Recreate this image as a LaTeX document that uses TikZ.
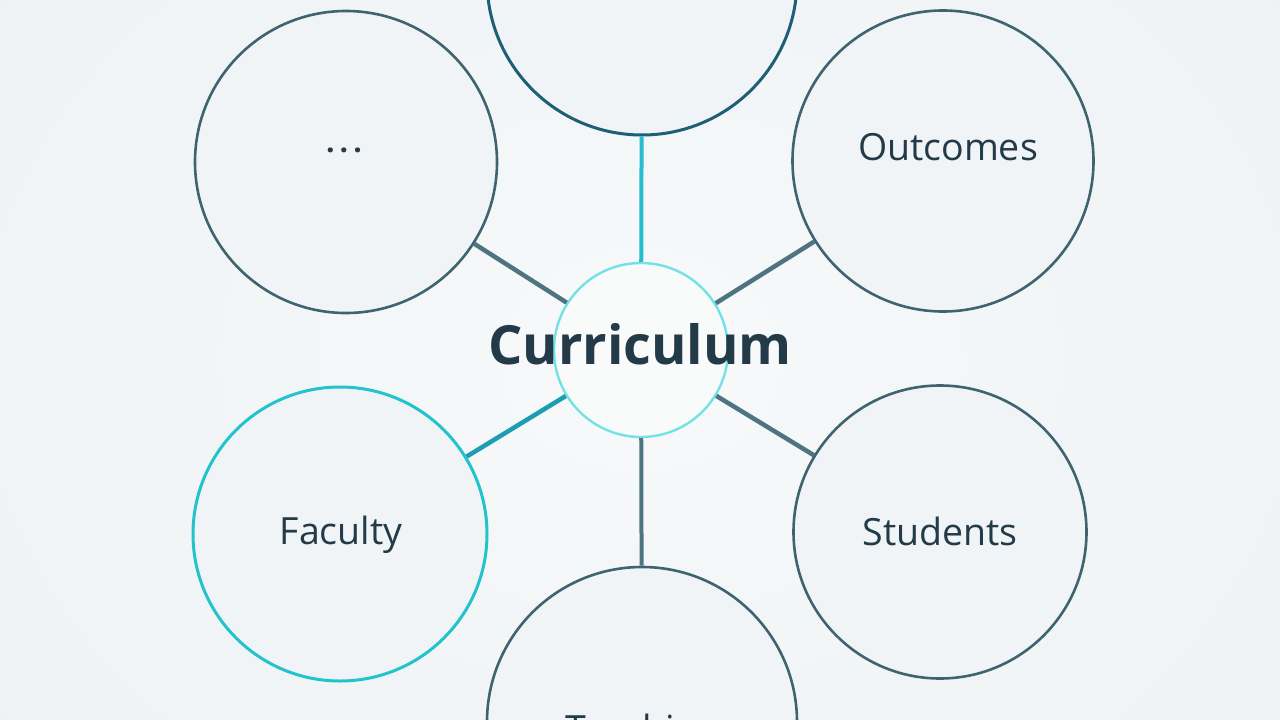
\documentclass[tikz,border=0pt]{standalone}
\usepackage{fontspec}
\setmainfont{Open Sans}
\begin{document}
\begin{tikzpicture}[x=1pt,y=-1pt,
  bub/.style={circle,draw=ringgray,line width=2.6pt,fill=bubfill,inner sep=0pt,minimum size=#1},
  lbl/.style={text=txtdark,font=\fontsize{37.5}{42}\selectfont},
  link/.style={line width=4.5pt,draw=linkgray}]
\definecolor{bgc}{HTML}{EEF2F4}
\definecolor{bgin}{HTML}{F7F9FA}
\definecolor{bubfill}{HTML}{F1F4F6}
\definecolor{ringgray}{HTML}{3E6470}
\definecolor{ringteal}{HTML}{1D5F75}
\definecolor{ringcyan}{HTML}{22C3CC}
\definecolor{ringlight}{HTML}{72E2E4}
\definecolor{linkgray}{HTML}{4E7482}
\definecolor{linkcyan}{HTML}{27BCD0}
\definecolor{linkteal}{HTML}{1C9DB2}
\definecolor{txtdark}{HTML}{233A48}
\useasboundingbox (0,0) rectangle (1280,720);
\clip (0,0) rectangle (1280,720);
\shade[inner color=bgin,outer color=bgc] (-200,-300) rectangle (1480,1020);
% nodes
\node[bub=174pt,draw=ringlight,line width=2.4pt,fill=white!60!bubfill] (c) at (641,350) {};
\node[bub=310pt,draw=ringteal,line width=3pt] (top) at (642,-20) {};
\node[bub=302pt] (tl) at (346,162) {};
\node[bub=301pt] (tr) at (943,161) {};
\node[bub=294pt,draw=ringcyan,line width=3pt] (bl) at (340,534) {};
\node[bub=293pt] (br) at (940,532) {};
\node[bub=310pt] (bot) at (642,722) {};
% links
\draw[link,draw=linkcyan,line width=4pt] (top) -- (c);
\draw[link] (tl) -- (c);
\draw[link] (tr) -- (c);
\draw[link,draw=linkteal] (bl) -- (c);
\draw[link] (br) -- (c);
\draw[link,line width=4pt] (bot) -- (c);
% labels
\node[text=txtdark,font=\fontsize{54}{60}\selectfont\bfseries] at (640,344) {Curriculum};
\node[lbl,font=\fontsize{30}{36}\selectfont\bfseries,anchor=base] at (344,152) {.\kern5pt.\kern5pt.};
\node[lbl] at (948,147) {Outcomes};
\node[lbl] at (341,535) {Faculty};
\node[lbl] at (940,531) {Students};
\node[lbl,anchor=north] at (642,710) {Teaching};
\end{tikzpicture}
\end{document}
